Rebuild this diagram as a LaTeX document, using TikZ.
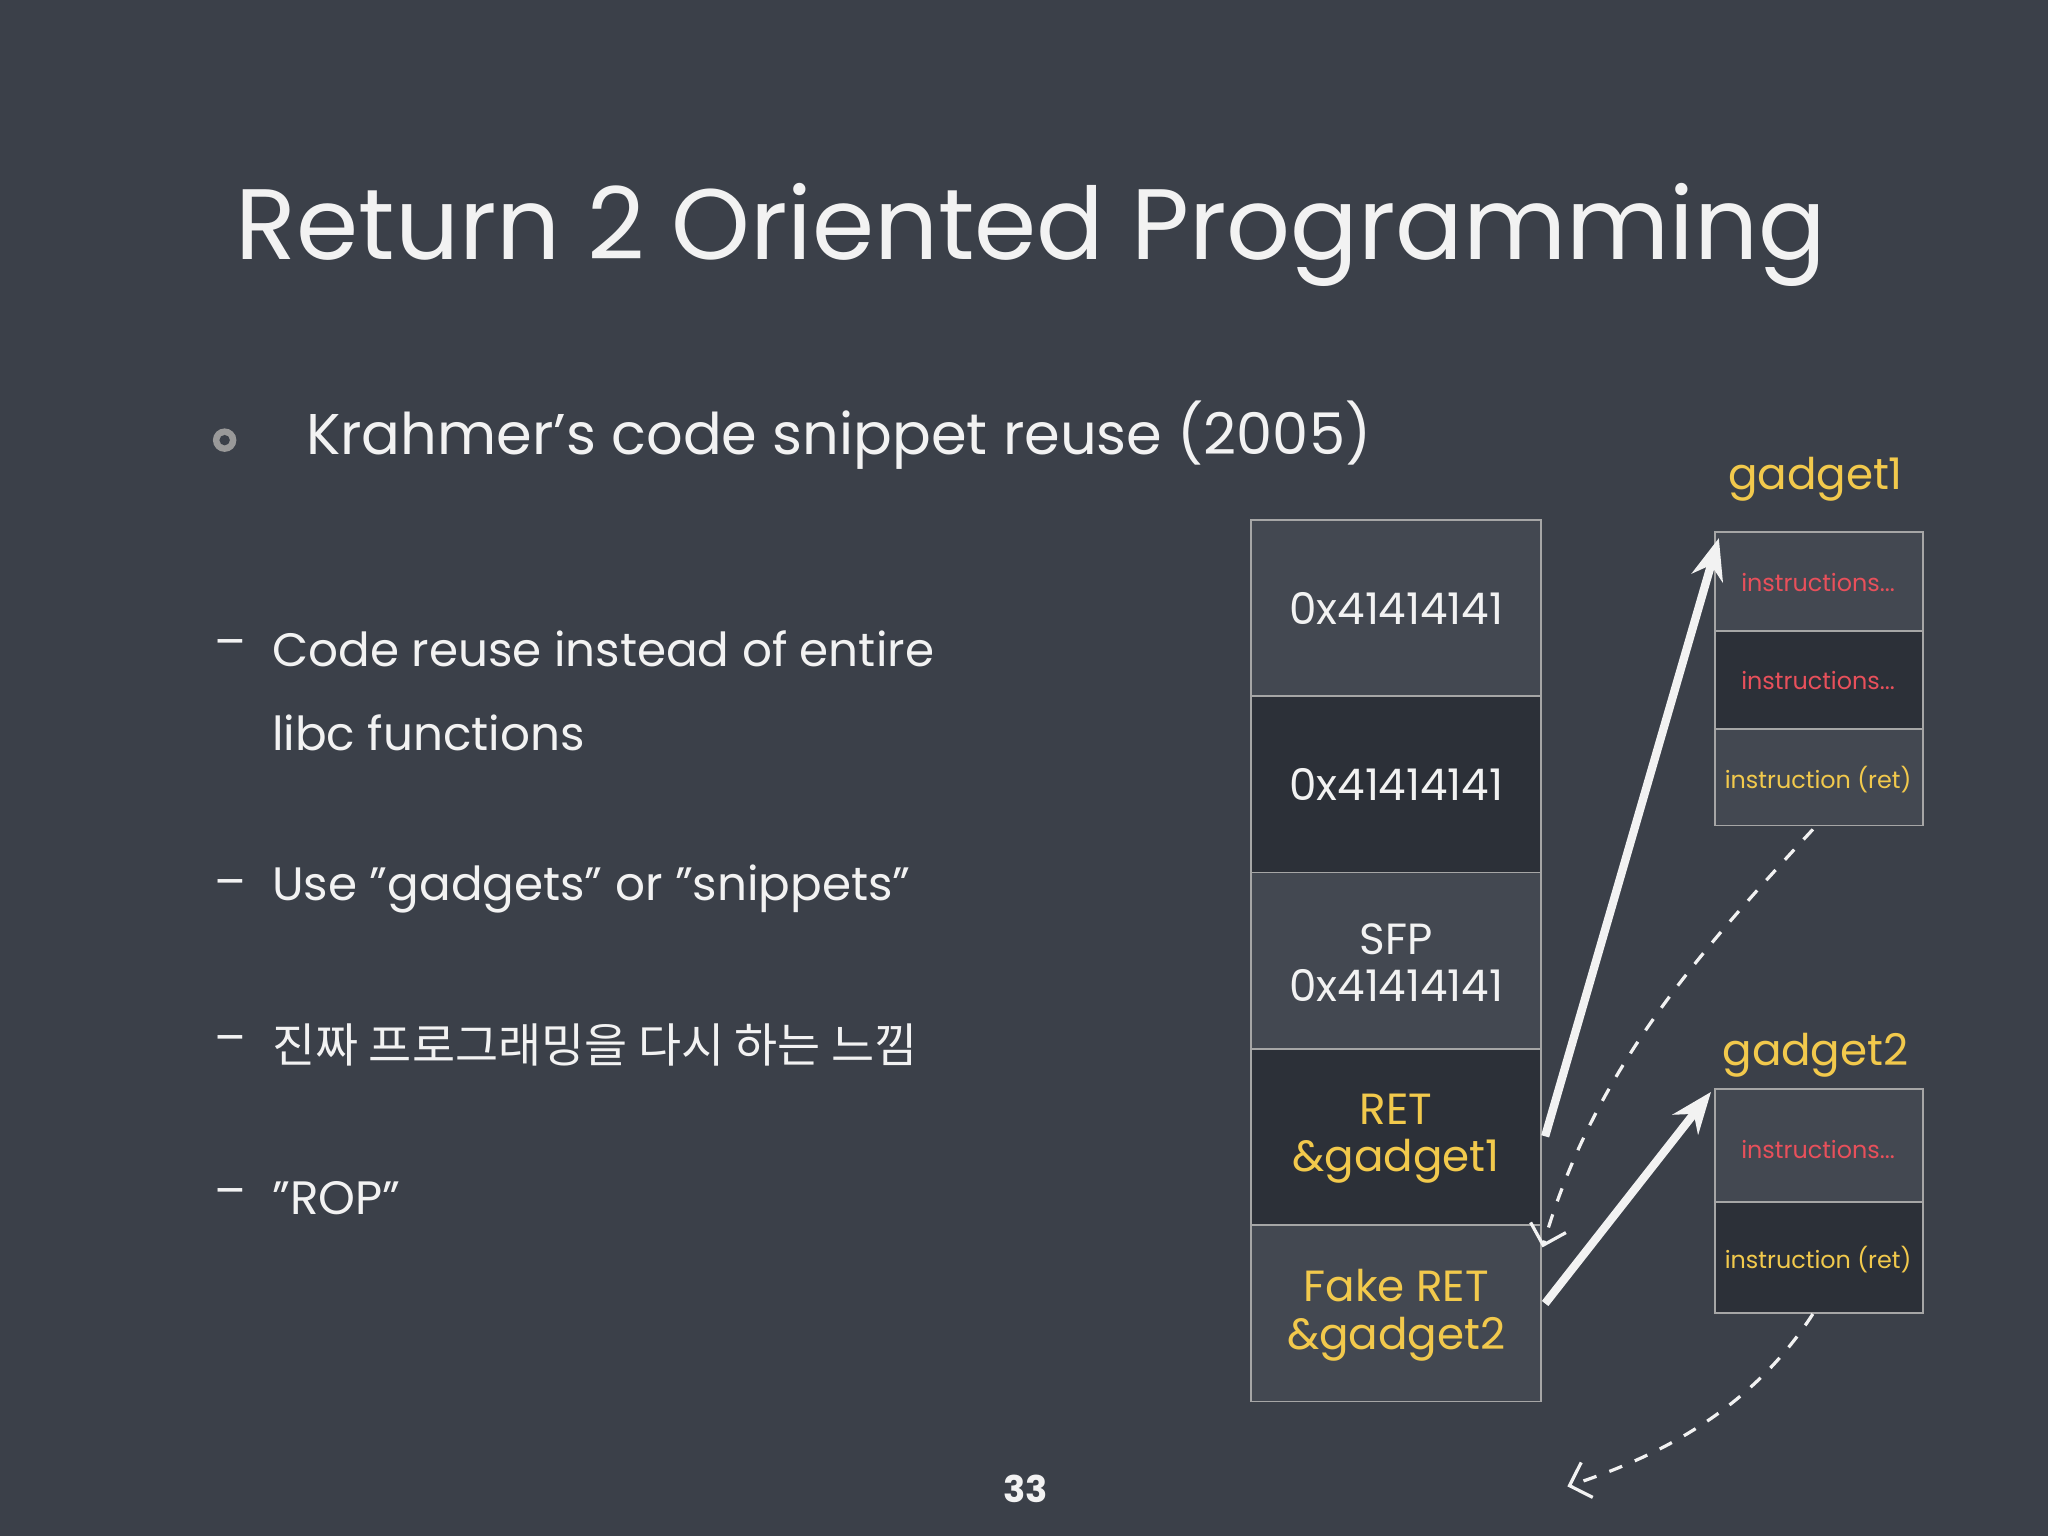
\documentclass[tikz,border=0pt]{standalone}
\usepackage{fontspec}
\setmainfont{Poppins}
\newfontfamily\cjk{Noto Sans CJK KR}
\usetikzlibrary{arrows.meta}
\definecolor{board}{HTML}{3B4049}
\definecolor{chalk}{HTML}{F2F2F2}
\definecolor{ylw}{HTML}{F2C94C}
\definecolor{rd}{HTML}{E8505B}
\definecolor{lightcell}{HTML}{434851}
\definecolor{darkcell}{HTML}{2C3038}
\tikzset{
  every node/.style={text=chalk},
  cell/.style={draw=gray!70, line width=0.4pt},
  bodytxt/.style={anchor=west, font=\fontsize{10.2}{12}\selectfont},
  stk/.style={align=center, font=\fontsize{9.5}{10.3}\selectfont},
  gtxt/.style={font=\fontsize{5.2}{6}\selectfont},
  big/.style={-{Stealth[length=9pt,width=7pt]}, line width=1.8pt, chalk},
  dsh/.style={-{Straight Barb[length=4pt]}, dashed, line width=0.7pt, chalk},
}
\begin{document}
\begin{tikzpicture}[x=0.01cm,y=-0.01cm]
\fill[board] (0,0) rectangle (1568,1176);
\useasboundingbox (0,0) rectangle (1568,1176);
\node[anchor=west, font=\fontsize{21.8}{26}\selectfont] (title) at (168,180) {Return 2 Oriented Programming};
\fill[gray!80] (172,337) circle (9); \fill[board] (172,337) circle (4);
\node[anchor=west, font=\fontsize{12.5}{15}\selectfont] (b1) at (222,333) {Krahmer's code snippet reuse (2005)};
\foreach \y in {497,681,800,917} \node[bodytxt] at (152,\y) {–};
\node[bodytxt] (t1) at (196,497) {Code reuse instead of entire};
\node[bodytxt] (t2) at (196,561) {libc functions};
\node[bodytxt] (t3) at (196,681) {Use "gadgets" or "snippets"};
\node[bodytxt, font=\cjk\fontsize{10.2}{12}\selectfont] (t4) at (196,800) {진짜 프로그래밍을 다시 하는 느낌};
\node[bodytxt] (t5) at (196,917) {"ROP"};
% stack
\fill[lightcell] (958,398) rectangle (1180,533);
\fill[darkcell] (958,533) rectangle (1180,668);
\fill[lightcell] (958,668) rectangle (1180,803);
\fill[darkcell] (958,803) rectangle (1180,938);
\fill[lightcell] (958,938) rectangle (1180,1073);
\foreach \a/\b in {398/533,533/668,668/803,803/938,938/1073} \draw[cell] (958,\a) rectangle (1180,\b);
\node[stk] (s1) at (1069,466) {0x41414141};
\node[stk] (s2) at (1069,601) {0x41414141};
\node[stk] (s3) at (1069,737) {SFP\\0x41414141};
\node[stk, text=ylw] (s4) at (1069,872) {RET\\\&gadget1};
\node[stk, text=ylw] (s5) at (1069,1007) {Fake RET\\\&gadget2};
% gadget1
\node[text=ylw, font=\fontsize{9.5}{11}\selectfont] (g1) at (1390,367) {gadget1};
\fill[lightcell] (1313,407) rectangle (1472,632);
\fill[darkcell] (1313,483) rectangle (1472,558);
\foreach \a/\b in {407/483,483/558,558/632} \draw[cell] (1313,\a) rectangle (1472,\b);
\node[gtxt, text=rd] (g1a) at (1392,446) {instructions...};
\node[gtxt, text=rd] (g1b) at (1392,521) {instructions...};
\node[gtxt, text=ylw] (g1c) at (1392,597) {instruction (ret)};
% gadget2
\node[text=ylw, font=\fontsize{9.5}{11}\selectfont] (g2) at (1390,808) {gadget2};
\fill[lightcell] (1313,834) rectangle (1472,1005);
\fill[darkcell] (1313,920) rectangle (1472,1005);
\foreach \a/\b in {834/920,920/1005} \draw[cell] (1313,\a) rectangle (1472,\b);
\node[gtxt, text=rd] (g2a) at (1392,880) {instructions...};
\node[gtxt, text=ylw] (g2b) at (1392,964) {instruction (ret)};
% arrows
\coordinate (r1) at (1183,870); \coordinate (h1) at (1316,412);
\coordinate (r2) at (1183,998); \coordinate (h2) at (1310,836);
\draw[big] (r1) -- (h1);
\draw[big] (r2) -- (h2);
\coordinate (d1) at (1388,635); \coordinate (e1) at (1181,955);
\draw[dsh] (d1) .. controls (1300,730) and (1220,820) .. (e1);
\coordinate (d2) at (1388,1006); \coordinate (e2) at (1200,1138);
\draw[dsh] (d2) .. controls (1340,1080) and (1270,1115) .. (e2);
\node[font=\bfseries\fontsize{8}{10}\selectfont] (pg) at (785,1140) {33};
\end{tikzpicture}
\end{document}
